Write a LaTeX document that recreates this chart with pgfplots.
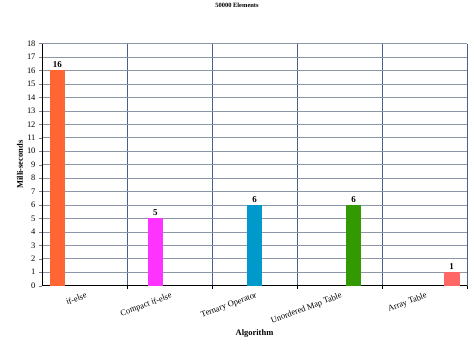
\documentclass[border=0pt]{standalone}
\usepackage{pgfplots}
\pgfplotsset{compat=1.18}
\usepackage{fontspec}
\setmainfont{Liberation Serif}
\definecolor{c1}{HTML}{FF6633}
\definecolor{c2}{HTML}{FF33FF}
\definecolor{c3}{HTML}{0099CC}
\definecolor{c4}{HTML}{339900}
\definecolor{c5}{HTML}{FF6666}
\definecolor{hgrid}{HTML}{8C96A8}
\definecolor{vgrid}{HTML}{4A6090}
\begin{document}
\begin{tikzpicture}
\begin{axis}[
  at={(0,0)}, anchor=south west,
  scale only axis, width=425bp, height=242bp,
  xmin=-0.5, xmax=4.5, ymin=0, ymax=18,
  axis lines=left, axis line style={-, black, line width=0.8pt},
  ytick={0,1,...,18},
  ymajorgrids, major grid style={hgrid, line width=0.5pt},
  xtick={0,1,2,3,4},
  xticklabels={if-else, Compact if-else, Ternary Operator, Unordered Map Table, Array Table},
  x tick label style={rotate=20, anchor=north east, font=\fontsize{8.5}{9}\selectfont, xshift=3bp},
  y tick label style={font=\fontsize{8.5}{9}\selectfont},
  /pgf/number format/assume math mode=true,
  minor xtick={0.5,1.5,2.5,3.5,4.5},
  xminorgrids, minor grid style={vgrid, line width=0.5pt},
  x tick style={draw=none},
  minor x tick style={draw=black},
  tick align=outside,
  major tick length=3bp, minor tick length=3bp,
  ybar, bar width=0.165, bar shift=0pt,
  nodes near coords,
  every node near coord/.append style={font=\bfseries\fontsize{9}{10}\selectfont, black, yshift=-1bp},
  clip=false,
]
\addplot[fill=c1, draw=c1, bar shift=0pt] coordinates {(-0.32,16)};
\addplot[fill=c2, draw=c2, bar shift=0pt] coordinates {(0.835,5)};
\addplot[fill=c3, draw=c3, bar shift=0pt] coordinates {(2.0,6)};
\addplot[fill=c4, draw=c4, bar shift=0pt] coordinates {(3.165,6)};
\addplot[fill=c5, draw=c5, bar shift=0pt] coordinates {(4.32,1)};
\end{axis}
\node[font=\bfseries\fontsize{6.5}{7}\selectfont] at (195bp,280bp) {50000 Elements};
\node[font=\bfseries\fontsize{8.5}{9}\selectfont] at (212.5bp,-48bp) {Algorithm};
\node[font=\bfseries\fontsize{8.5}{9}\selectfont, rotate=90] at (-22bp,121bp) {Milli-seconds};
\useasboundingbox (-42bp,-63bp) rectangle (432bp,285bp);
\end{tikzpicture}
\end{document}
